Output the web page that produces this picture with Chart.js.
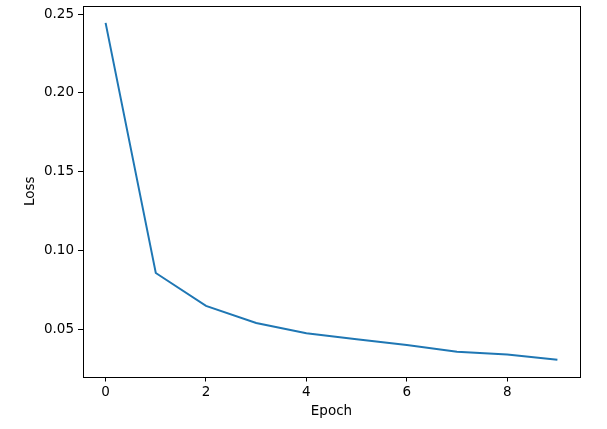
<!DOCTYPE html>
<html>
<head>
<meta charset="utf-8">
<script src="https://cdn.jsdelivr.net/npm/chart.js@4.4.1/dist/chart.umd.min.js"></script>
<style>
  html, body { margin: 0; padding: 0; background: #fff; }
  #wrap { width: 607px; height: 429px; }
</style>
</head>
<body>
<div id="wrap"><canvas id="c"></canvas></div>
<script>
// loss per epoch
const epochs = [0, 1, 2, 3, 4, 5, 6, 7, 8, 9];
const loss = [0.2445, 0.0857, 0.0648, 0.0540, 0.0475, 0.0437, 0.0400, 0.0357, 0.0339, 0.0307];
const xTicks = [0, 2, 4, 6, 8];
const yTicks = [0.05, 0.10, 0.15, 0.20, 0.25];

// matplotlib-style 5% margins
const xPad = (Math.max(...epochs) - Math.min(...epochs)) * 0.05;
const yPad = (Math.max(...loss) - Math.min(...loss)) * 0.05;

const font = { family: 'DejaVu Sans', size: 13.5 };

// box around the plot area
const frame = {
  id: 'frame',
  afterDraw(chart) {
    const { ctx, chartArea: a } = chart;
    ctx.save();
    ctx.strokeStyle = '#000';
    ctx.lineWidth = 1;
    ctx.strokeRect(Math.round(a.left) + 0.5, Math.round(a.top) + 0.5,
      Math.round(a.right - a.left), Math.round(a.bottom - a.top));
    ctx.restore();
  }
};

// no extra room for overhanging labels, the layout padding handles it
const noOverhang = s => {
  s.paddingTop = 0; s.paddingBottom = 0; s.paddingLeft = 0; s.paddingRight = 0;
};

new Chart(document.getElementById('c'), {
  type: 'line',
  data: {
    datasets: [{
      data: epochs.map((e, i) => ({ x: e, y: loss[i] })),
      borderColor: '#1f77b4',
      borderWidth: 2,
      pointRadius: 0,
      tension: 0,
      fill: false
    }]
  },
  options: {
    responsive: true,
    maintainAspectRatio: false,
    animation: false,
    layout: { padding: { left: 0, top: 6, right: 27, bottom: 0 } },
    plugins: { legend: { display: false }, tooltip: { enabled: false } },
    scales: {
      x: {
        type: 'linear',
        min: Math.min(...epochs) - xPad,
        max: Math.max(...epochs) + xPad,
        afterBuildTicks: s => { s.ticks = xTicks.map(v => ({ value: v })); },
        afterFit: s => { s.height = 52.5; noOverhang(s); },
        grid: { drawOnChartArea: false, tickLength: 5, color: '#000', tickColor: '#000' },
        border: { display: false },
        ticks: { font, color: '#000', padding: 3, maxRotation: 0 },
        title: { display: true, text: 'Epoch', font, color: '#000', padding: { top: 0, bottom: 9 } }
      },
      y: {
        min: Math.min(...loss) - yPad,
        max: Math.max(...loss) + yPad,
        afterBuildTicks: s => { s.ticks = yTicks.map(v => ({ value: v })); },
        afterFit: s => { s.width = 83; noOverhang(s); },
        grid: { drawOnChartArea: false, tickLength: 5, color: '#000', tickColor: '#000' },
        border: { display: false },
        ticks: { font, color: '#000', padding: 4, callback: v => v.toFixed(2) },
        title: { display: true, text: 'Loss', font, color: '#000', padding: { top: 22, bottom: 0 } }
      }
    }
  },
  plugins: [frame]
});
</script>
</body>
</html>
